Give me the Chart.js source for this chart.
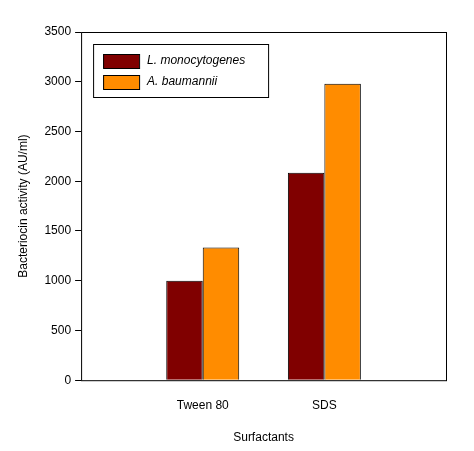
<!DOCTYPE html>
<html>
<head>
<script src="https://cdn.jsdelivr.net/npm/chart.js@4/dist/chart.umd.min.js"></script>
<style>
body{margin:0;background:#fff}
#wrap{width:474px;height:451px}
</style>
</head>
<body>
<div id="wrap"><canvas id="c"></canvas></div>
<script>
// data
const categories = ['', 'Tween 80', 'SDS', '']
const listeria = [null, 1000, 2085, null]
const baumannii = [null, 1335, 2980, null]
const seriesNames = ['L. monocytogenes', 'A. baumannii']
const seriesColors = ['#800000', '#ff8c00']
const yTicks = [0, 500, 1000, 1500, 2000, 2500, 3000, 3500]

// cadre + legende dans le graphe
const frame = {
  id: 'frame',
  afterDraw(chart) {
    const c = chart.ctx, a = chart.chartArea
    c.save()
    c.strokeStyle = '#000'
    c.lineWidth = 1
    c.strokeRect(a.left + 0.5, a.top + 0.5, a.right - a.left, a.bottom - a.top)
    // legende
    const lx = a.left + 12, ly = a.top + 12
    c.strokeRect(lx + 0.5, ly + 0.5, 175, 53)
    c.font = 'italic 12px "Liberation Sans", Arial'
    c.textBaseline = 'middle'
    chart.data.datasets.forEach((d, i) => {
      const yy = ly + 17 + i * 21
      c.fillStyle = d.backgroundColor
      c.fillRect(lx + 10, yy - 7, 36, 14)
      c.strokeRect(lx + 10.5, yy - 6.5, 36, 14)
      c.fillStyle = '#000'
      c.fillText(d.label, lx + 54, yy)
    })
    c.restore()
  }
}

new Chart(document.getElementById('c'), {
  type: 'bar',
  data: {
    labels: categories,
    datasets: [
      { label: seriesNames[0], data: listeria, backgroundColor: seriesColors[0], borderColor: '#000', borderWidth: 1 },
      { label: seriesNames[1], data: baumannii, backgroundColor: seriesColors[1], borderColor: '#000', borderWidth: 1 }
    ]
  },
  options: {
    responsive: true,
    maintainAspectRatio: false,
    animation: false,
    layout: { padding: { top: 32, right: 28, left: 12, bottom: 2 } },
    plugins: { legend: { display: false }, tooltip: { enabled: false } },
    datasets: { bar: { categoryPercentage: 0.6, barPercentage: 1 } },
    scales: {
      x: {
        offset: false,
        grid: { display: false },
        border: { display: false },
        ticks: { color: '#000', font: { family: '"Liberation Sans", Arial', size: 12 }, padding: 10, maxRotation: 0, autoSkip: false },
        title: { display: true, text: 'Surfactants', color: '#000', font: { family: '"Liberation Sans", Arial', size: 12 }, padding: { top: 8 } }
      },
      y: {
        min: 0, max: 3500,
        afterBuildTicks: s => { s.ticks = yTicks.map(v => ({ value: v })) },
        grid: { drawOnChartArea: false, tickLength: 6, color: '#000' },
        border: { display: false },
        ticks: { color: '#000', font: { family: '"Liberation Sans", Arial', size: 12 }, padding: 4, callback: v => String(v) },
        title: { display: true, text: 'Bacteriocin activity (AU/ml)', color: '#000', font: { family: '"Liberation Sans", Arial', size: 12 }, padding: { bottom: 10 } }
      }
    }
  },
  plugins: [frame]
})
</script>
</body>
</html>
